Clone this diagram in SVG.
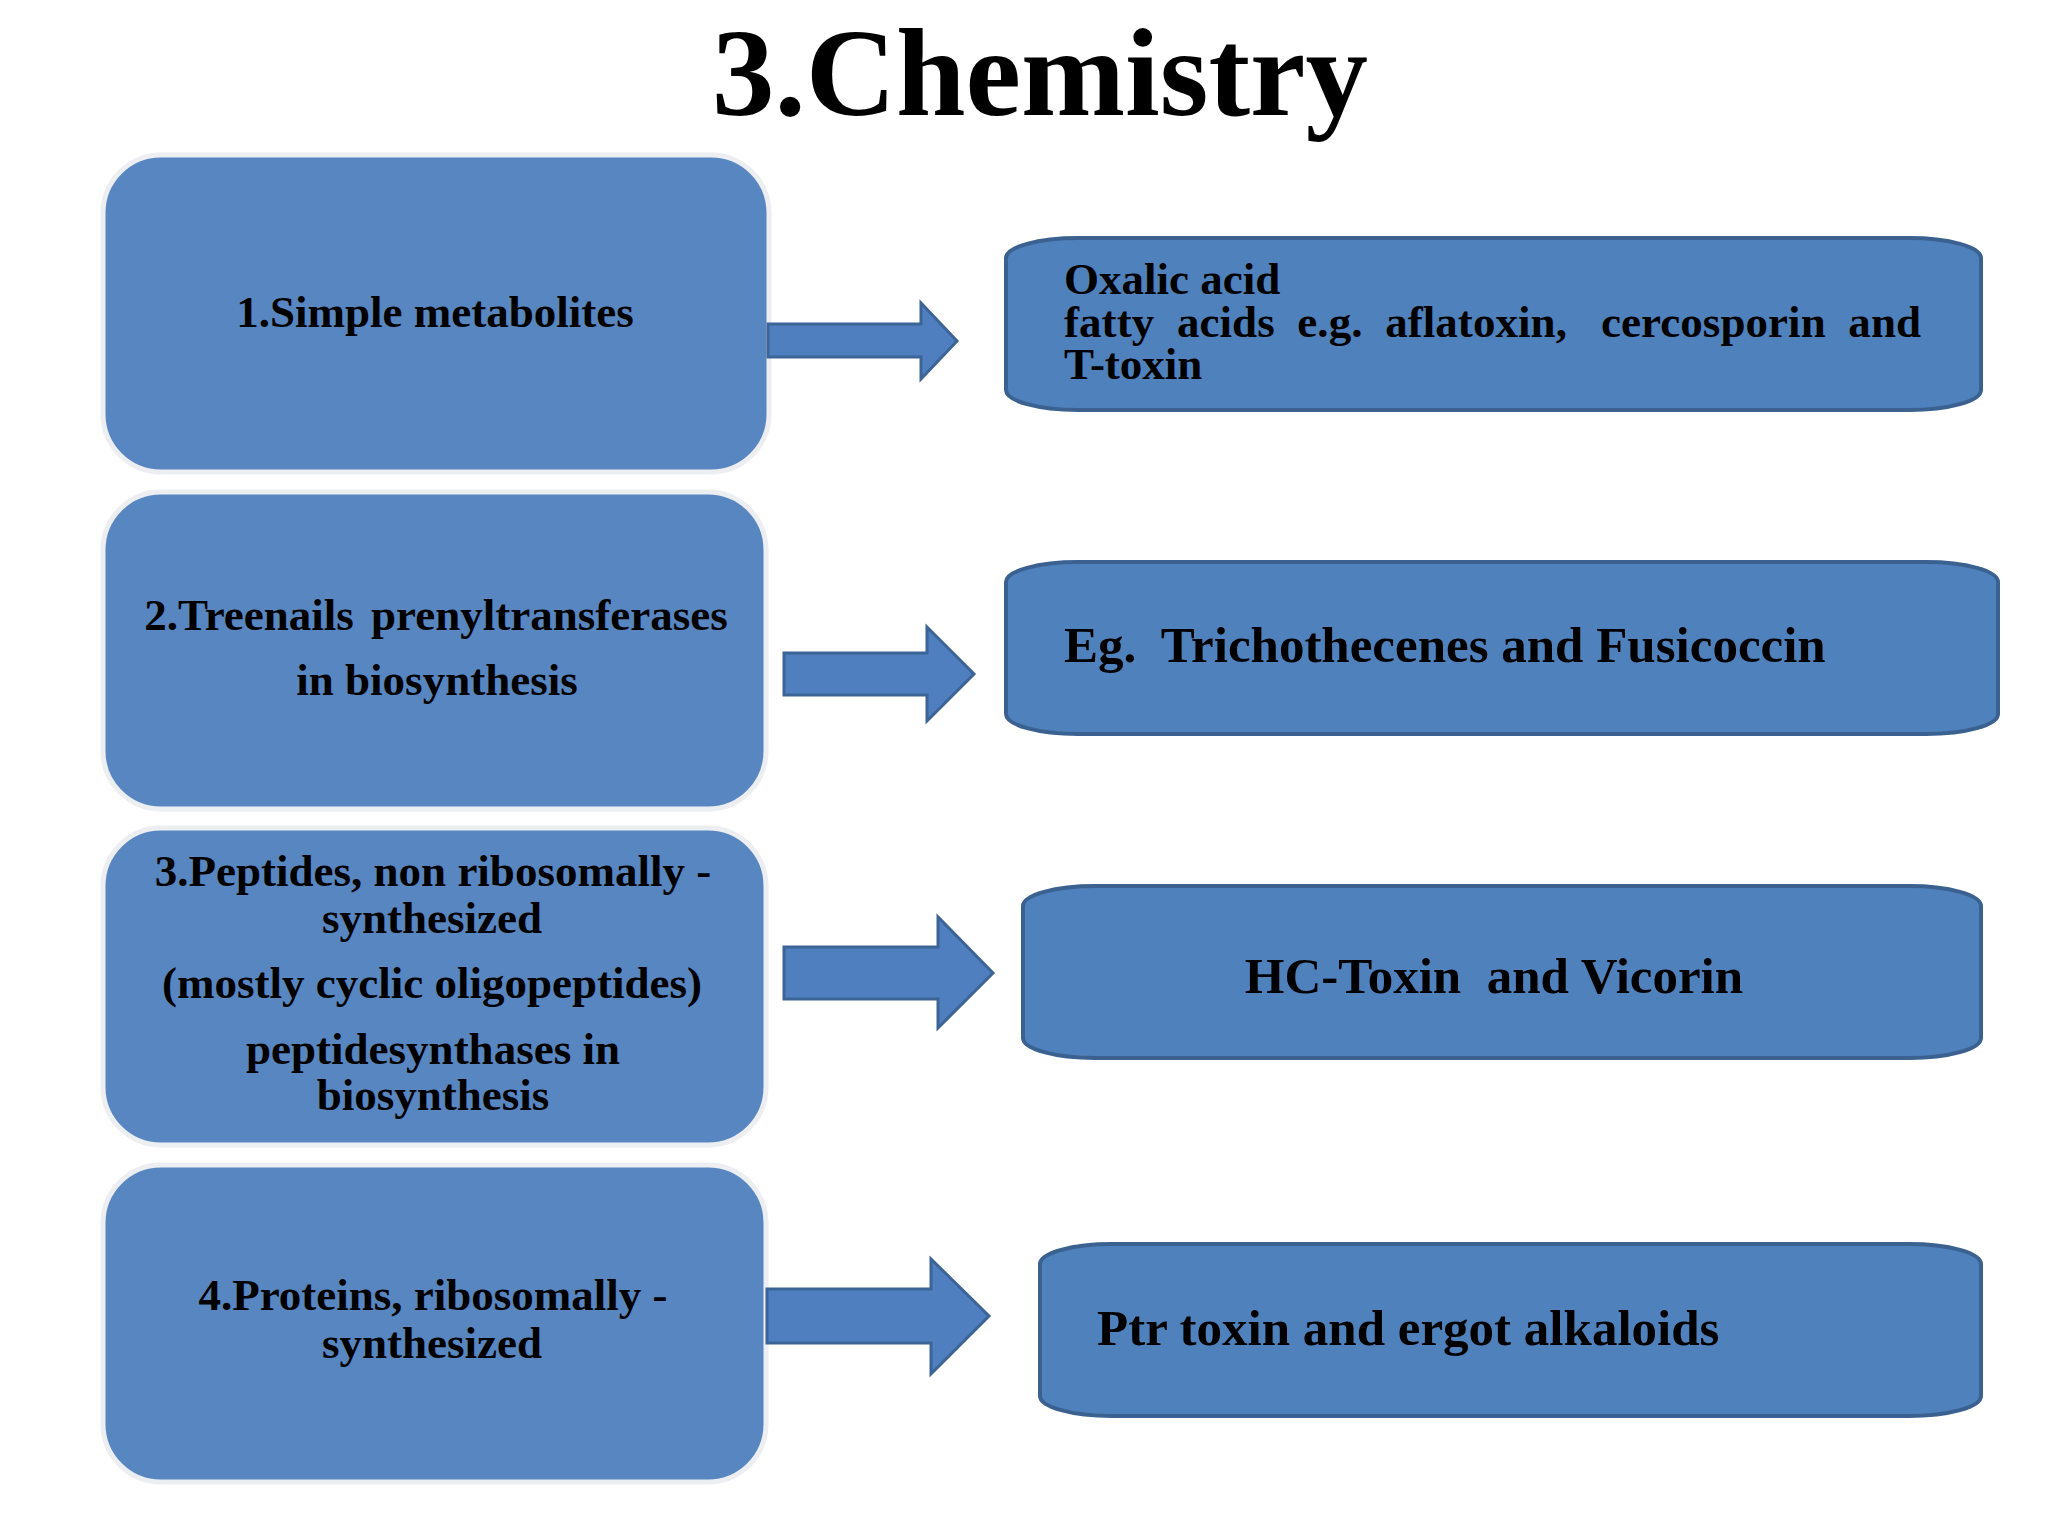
<svg xmlns="http://www.w3.org/2000/svg" width="2048" height="1536" viewBox="0 0 2048 1536">
<style>
.lbox{fill:#5886C1;stroke:#ECEEF2;stroke-width:5}
.rbox{fill:#4F81BD;stroke:#3B6191;stroke-width:4}
.arr{fill:#4F7FBE;stroke:#3D6496;stroke-width:3;stroke-linejoin:miter}
text{font-family:"Liberation Serif","Times New Roman",serif;font-weight:bold;fill:#000}
.lt{font-size:45px;text-anchor:middle}
.rt{font-size:51px}
</style>
<rect width="2048" height="1536" fill="#FFFFFF"/>
<text id="title" x="1040" y="115" font-size="125" text-anchor="middle">3.Chemistry</text>

<g id="n1"><rect class="lbox" x="103" y="155" width="666" height="317" rx="58" ry="58"/>
<text class="lt" x="435" y="327">1.Simple metabolites</text></g>

<g id="n2"><rect class="lbox" x="103" y="492" width="663" height="317" rx="58" ry="58"/>
<text class="lt" x="436" y="630" word-spacing="6">2.Treenails prenyltransferases</text>
<text class="lt" x="437" y="695">in biosynthesis</text></g>

<g id="n3"><rect class="lbox" x="103" y="828" width="663" height="317" rx="58" ry="58"/>
<text class="lt" x="433" y="886">3.Peptides, non ribosomally -</text>
<text class="lt" x="432" y="933">synthesized</text>
<text class="lt" x="432" y="998">(mostly cyclic oligopeptides)</text>
<text class="lt" x="433" y="1064">peptidesynthases in</text>
<text class="lt" x="433" y="1110">biosynthesis</text></g>

<g id="n4"><rect class="lbox" x="103" y="1165" width="663" height="317" rx="58" ry="58"/>
<text class="lt" x="433" y="1310">4.Proteins, ribosomally -</text>
<text class="lt" x="432" y="1358">synthesized</text></g>

<g id="r1"><rect class="rbox" x="1006" y="238" width="975" height="172" rx="72" ry="20"/>
<text font-size="45" x="1064" y="294">Oxalic acid</text>
<text font-size="45" x="1064" y="337" textLength="857" lengthAdjust="spacing" xml:space="preserve">fatty  acids  e.g.  aflatoxin,   cercosporin  and</text>
<text font-size="45" x="1064" y="379">T-toxin</text></g>

<g id="r2"><rect class="rbox" x="1006" y="562" width="992" height="172" rx="72" ry="20"/>
<text class="rt" x="1064" y="662" xml:space="preserve">Eg.  Trichothecenes and Fusicoccin</text></g>

<g id="r3"><rect class="rbox" x="1023" y="886" width="958" height="172" rx="72" ry="20"/>
<text class="rt" x="1494" y="993" text-anchor="middle" xml:space="preserve">HC-Toxin  and Vicorin</text></g>

<g id="r4"><rect class="rbox" x="1040" y="1244" width="941" height="172" rx="72" ry="20"/>
<text class="rt" x="1097" y="1345">Ptr toxin and ergot alkaloids</text></g>

<g id="connectors">
<polygon class="arr" points="768,324 921,324 921,303 957,341 921,379 921,357 768,357"/>
<polygon class="arr" points="784,653 927,653 927,627 974,674 927,721 927,695 784,695"/>
<polygon class="arr" points="784,947 938,947 938,917 993,973 938,1028 938,999 784,999"/>
<polygon class="arr" points="767,1289 931,1289 931,1259 989,1316 931,1374 931,1343 767,1343"/>
</g>
</svg>
